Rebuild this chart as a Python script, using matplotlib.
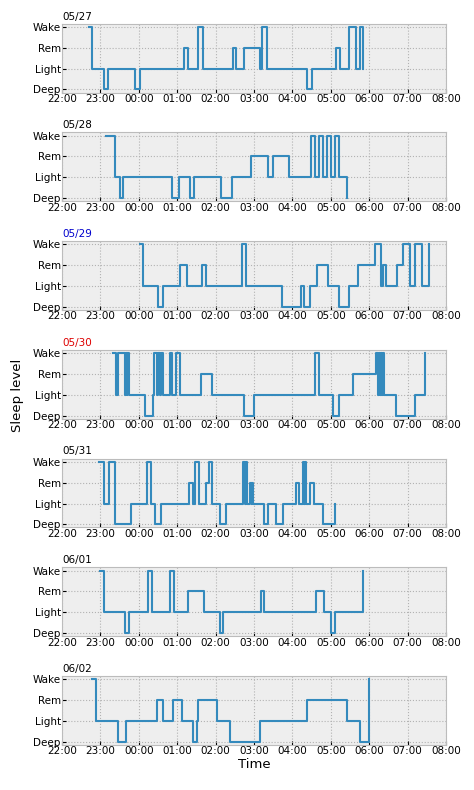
import matplotlib
matplotlib.use("Agg")
import matplotlib.pyplot as plt

plt.style.use("bmh")

# sleep level per night: W=Wake, R=Rem, L=Light, D=Deep (state starts at time)
dates = ["05/27", "05/28", "05/29", "05/30", "05/31", "06/01", "06/02"]
title_colors = ["black", "black", "#0000cc", "#dd0000", "black", "black", "black"]

night_0527 = [("22:42", "W"), ("22:47", "L"), ("23:06", "D"), ("23:12", "L"), ("23:54", "D"),
              ("00:01", "L"), ("01:11", "R"), ("01:16", "L"), ("01:33", "W"), ("01:40", "L"),
              ("02:27", "R"), ("02:32", "L"), ("02:45", "R"), ("03:10", "L"), ("03:12", "W"),
              ("03:20", "L"), ("04:22", "D"), ("04:30", "L"), ("05:08", "R"), ("05:14", "L"),
              ("05:29", "W"), ("05:39", "L"), ("05:46", "W"), ("05:50", "L")]
night_0528 = [("23:09", "W"), ("23:23", "L"), ("23:30", "D"), ("23:35", "L"), ("00:51", "D"),
              ("01:02", "L"), ("01:20", "D"), ("01:26", "L"), ("02:08", "D"), ("02:26", "L"),
              ("02:55", "R"), ("03:21", "L"), ("03:30", "R"), ("03:55", "L"), ("04:29", "W"),
              ("04:35", "L"), ("04:42", "W"), ("04:48", "L"), ("04:54", "W"), ("05:00", "L"),
              ("05:06", "W"), ("05:13", "L"), ("05:26", "D")]
night_0529 = [("00:01", "W"), ("00:07", "L"), ("00:30", "D"), ("00:37", "L"), ("01:05", "R"),
              ("01:15", "L"), ("01:38", "R"), ("01:45", "L"), ("02:41", "W"), ("02:47", "L"),
              ("03:43", "D"), ("04:13", "L"), ("04:18", "D"), ("04:27", "L"), ("04:38", "R"),
              ("04:55", "L"), ("05:12", "D"), ("05:28", "L"), ("05:43", "R"), ("06:09", "W"),
              ("06:18", "L"), ("06:21", "R"), ("06:26", "L"), ("06:44", "R"), ("06:53", "W"),
              ("07:04", "L"), ("07:11", "W"), ("07:22", "L"), ("07:33", "W")]
night_0530 = [("23:19", "W"), ("23:25", "L"), ("23:27", "W"), ("23:38", "L"), ("23:40", "W"),
              ("23:41", "L"), ("23:42", "W"), ("23:44", "L"), ("00:09", "D"), ("00:22", "L"),
              ("00:24", "W"), ("00:28", "L"), ("00:30", "W"), ("00:33", "L"), ("00:34", "W"),
              ("00:37", "L"), ("00:48", "W"), ("00:52", "L"), ("00:58", "W"), ("01:04", "L"),
              ("01:37", "R"), ("01:54", "L"), ("02:45", "D"), ("03:00", "L"), ("04:36", "W"),
              ("04:41", "L"), ("05:04", "D"), ("05:12", "L"), ("05:35", "R"), ("06:10", "W"),
              ("06:14", "L"), ("06:15", "W"), ("06:17", "L"), ("06:18", "W"), ("06:20", "L"),
              ("06:21", "W"), ("06:23", "L"), ("06:42", "D"), ("07:11", "L"), ("07:27", "W")]
night_0531 = [("22:58", "W"), ("23:05", "L"), ("23:13", "W"), ("23:23", "D"), ("23:48", "L"),
              ("00:13", "W"), ("00:19", "L"), ("00:25", "D"), ("00:35", "L"), ("01:19", "R"),
              ("01:25", "L"), ("01:28", "W"), ("01:34", "L"), ("01:45", "R"), ("01:49", "W"),
              ("01:55", "L"), ("02:07", "D"), ("02:16", "L"), ("02:43", "W"), ("02:46", "L"),
              ("02:47", "W"), ("02:49", "L"), ("02:54", "R"), ("02:56", "L"), ("02:57", "R"),
              ("02:59", "L"), ("03:15", "D"), ("03:21", "L"), ("03:35", "D"), ("03:45", "L"),
              ("04:05", "R"), ("04:11", "L"), ("04:16", "W"), ("04:18", "L"), ("04:19", "W"),
              ("04:21", "L"), ("04:28", "R"), ("04:34", "L"), ("04:48", "D"), ("05:07", "L")]
night_0601 = [("23:00", "W"), ("23:06", "L"), ("23:38", "D"), ("23:44", "L"), ("00:15", "W"),
              ("00:21", "L"), ("00:49", "W"), ("00:55", "L"), ("01:17", "R"), ("01:42", "L"),
              ("02:06", "D"), ("02:11", "L"), ("03:11", "R"), ("03:16", "L"), ("04:37", "R"),
              ("04:49", "L"), ("05:00", "D"), ("05:06", "L"), ("05:50", "W")]
night_0602 = [("22:46", "W"), ("22:53", "L"), ("23:28", "D"), ("23:40", "L"), ("00:28", "R"),
              ("00:37", "L"), ("00:54", "R"), ("01:08", "L"), ("01:24", "D"), ("01:31", "L"),
              ("01:32", "R"), ("02:02", "L"), ("02:23", "D"), ("03:10", "L"), ("04:23", "R"),
              ("05:26", "L"), ("05:46", "D"), ("06:00", "W")]

nights = [night_0527, night_0528, night_0529, night_0530, night_0531, night_0601, night_0602]

level_names = ["Deep", "Light", "Rem", "Wake"]
level_code = {"D": 0, "L": 1, "R": 2, "W": 3}
hour_labels = ["22:00", "23:00", "00:00", "01:00", "02:00", "03:00",
               "04:00", "05:00", "06:00", "07:00", "08:00"]


def to_hours(t):
    # hours since 22:00
    h, m = map(int, t.split(":"))
    if h < 12:
        h += 24
    return h + m / 60 - 22


fig, axes = plt.subplots(7, 1, figsize=(4.74, 7.9), dpi=100)
fig.subplots_adjust(left=0.131, right=0.941, top=0.970, bottom=0.057, hspace=0.58)

for ax, d, c, night in zip(axes, dates, title_colors, nights):
    x = [to_hours(t) for t, s in night]
    y = [level_code[s] for t, s in night]
    ax.step(x, y, where="post", color="#348ABD", lw=1.5)
    ax.set_xlim(0, 10)
    ax.set_ylim(-0.15, 3.15)
    ax.set_xticks(range(11))
    ax.set_xticklabels(hour_labels, fontsize=7.5)
    ax.set_yticks(range(4))
    ax.set_yticklabels(level_names, fontsize=7.5)
    ax.set_title(d, loc="left", fontsize=7.5, color=c, pad=3)
    ax.tick_params(length=3, pad=1)
    ax.grid(True, linestyle=":", color="#b2b2b2", lw=0.8)

axes[-1].set_xlabel("Time", fontsize=9.5, labelpad=1)
fig.text(0.036, 0.5, "Sleep level", rotation=90, va="center", ha="center", fontsize=9.5)

fig.savefig("out.png", dpi=100)
